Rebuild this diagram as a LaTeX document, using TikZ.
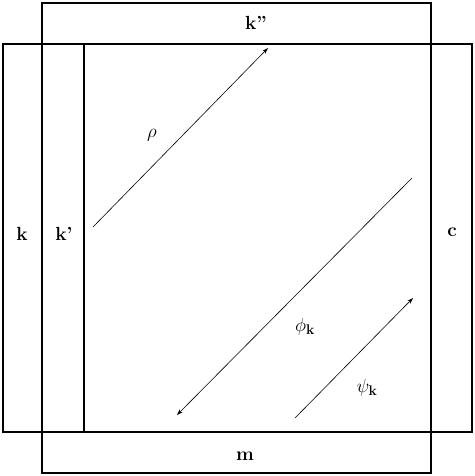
\RequirePackage{fix-cm}
\documentclass[tikz,border=0pt]{standalone}
\usetikzlibrary{arrows.meta}
\DeclareMathSizes{19}{19}{14}{10}
\begin{document}
\begin{tikzpicture}[x=1pt,y=-1pt,
    box/.style={line width=2.2pt},
    flow/.style={line width=0.6pt,-{Stealth[length=6pt,width=4pt]}},
    lbl/.style={font=\fontsize{19}{22}\selectfont}]
  \useasboundingbox (0,0) rectangle (474,476);
  \draw[box] (42,3) rectangle (431,473);
  \draw[box] (3,44) rectangle (472,432);
  \draw[box] (84,44) -- (84,432);
  \draw
    (256,23) node[lbl] (kpp){\textbf{k''}}
    (22,234) node[lbl] (k){\textbf{k}}
    (64,234) node[lbl] (kp){\textbf{k'}}
    (452,232) node[lbl] (c){\textbf{c}}
    (245,456) node[lbl] (m){\textbf{m}}
    (152,135) node[lbl] (rho){$\rho$}
    (305,327) node[lbl] (phi){$\phi_{\mathbf{k}}$}
    (367,388) node[lbl] (psi){$\psi_{\mathbf{k}}$};
  \coordinate (rho0) at (93,227);
  \coordinate (rho1) at (268,48);
  \coordinate (phi0) at (412,178);
  \coordinate (phi1) at (177,415);
  \coordinate (psi0) at (295,418);
  \coordinate (psi1) at (413,298);
  \begin{scope}[flow]
    \draw (rho0) to (rho1);
    \draw (phi0) to (phi1);
    \draw (psi0) to (psi1);
  \end{scope}
\end{tikzpicture}
\end{document}
